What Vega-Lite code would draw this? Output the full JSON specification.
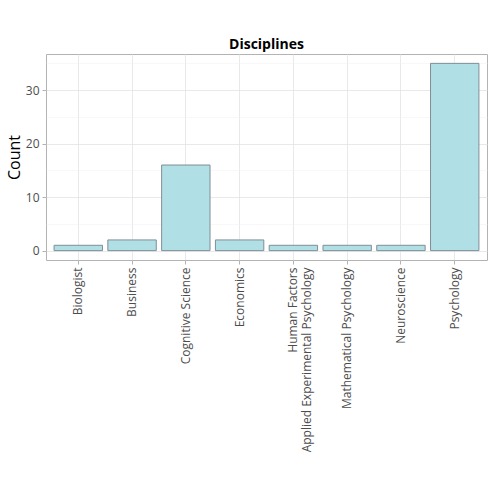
{
  "$schema": "https://vega.github.io/schema/vega-lite/v6.json",
  "autosize": "none",
  "padding": {"left": 46, "top": 54, "right": 13, "bottom": 240},
  "width": 441,
  "height": 206,
  "background": "white",
  "title": {
    "text": "Disciplines",
    "font": "Open Sans",
    "fontSize": 14,
    "fontWeight": "bold",
    "color": "#000000",
    "anchor": "middle",
    "offset": 2
  },
  "data": {
    "values": [
      {"discipline": "Biologist", "count": 1},
      {"discipline": "Business", "count": 2},
      {"discipline": "Cognitive Science", "count": 16},
      {"discipline": "Economics", "count": 2},
      {"discipline": "Human Factors\nApplied Experimental Psychology", "count": 1},
      {"discipline": "Mathematical Psychology", "count": 1},
      {"discipline": "Neuroscience", "count": 1},
      {"discipline": "Psychology", "count": 35}
    ]
  },
  "mark": {
    "type": "bar",
    "fill": "#b0dfe5",
    "stroke": "#7f8e96",
    "strokeWidth": 1
  },
  "encoding": {
    "x": {
      "field": "discipline",
      "type": "nominal",
      "sort": null,
      "title": null,
      "scale": {"paddingInner": 0.1, "paddingOuter": 0.15},
      "axis": {
        "labelAngle": -90,
        "labelAlign": "right",
        "labelBaseline": "middle",
        "labelExpr": "split(datum.label, '\\n')",
        "labelFont": "Open Sans",
        "labelFontSize": 12,
        "labelColor": "#4d4d4d",
        "labelPadding": 3,
        "labelLineHeight": 14,
        "labelLimit": 400,
        "bandPosition": 0.5,
        "grid": true,
        "gridColor": "#e3e3e3",
        "gridWidth": 0.8,
        "domain": false,
        "tickColor": "#b3b3b3",
        "tickSize": 4
      }
    },
    "y": {
      "field": "count",
      "type": "quantitative",
      "title": "Count",
      "scale": {"domain": [-1.75, 36.75], "nice": false, "zero": false},
      "axis": {
        "values": [0, 5, 10, 15, 20, 25, 30, 35],
        "labelExpr": "datum.value % 10 == 0 ? datum.label : ''",
        "labelFont": "Open Sans",
        "labelFontSize": 12,
        "labelColor": "#4d4d4d",
        "labelPadding": 3,
        "grid": true,
        "gridColor": {"condition": {"test": "datum.value % 10 == 0", "value": "#e3e3e3"}, "value": "#f0f0f0"},
        "gridWidth": {"condition": {"test": "datum.value % 10 == 0", "value": 0.8}, "value": 0.5},
        "domain": false,
        "tickColor": "#b3b3b3",
        "tickOpacity": {"condition": {"test": "datum.value % 10 == 0", "value": 1}, "value": 0},
        "tickSize": 4,
        "titleFont": "Open Sans",
        "titleFontSize": 16,
        "titleFontWeight": "normal",
        "titleColor": "#000000",
        "titlePadding": 3
      }
    }
  },
  "config": {
    "view": {"stroke": "#b3b3b3", "strokeWidth": 1}
  }
}
